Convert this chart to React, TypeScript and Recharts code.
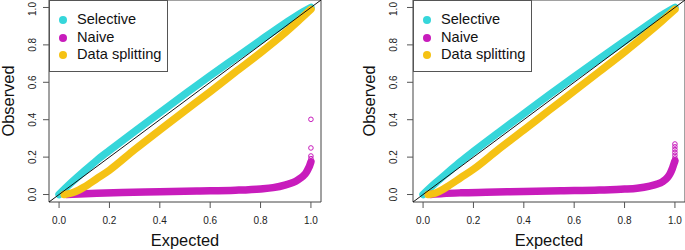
import {
  ComposedChart,
  Line,
  Scatter,
  XAxis,
  YAxis,
  ReferenceLine,
  ReferenceArea,
} from "recharts";

// expected p-values (x) for each series
const selectiveX = [0, 0.05, 0.1, 0.15, 0.2, 0.3, 0.4, 0.5, 0.6, 0.7, 0.8, 0.9, 0.95, 1.0];
const splitX = [0.02, 0.05, 0.08, 0.1, 0.15, 0.2, 0.3, 0.4, 0.5, 0.6, 0.7, 0.8, 0.9, 0.95, 1.0];
const naiveX = [0.03, 0.08, 0.15, 0.25, 0.4, 0.55, 0.7, 0.8, 0.85, 0.9, 0.93, 0.95, 0.97, 0.98, 0.99, 0.995, 1.0];

// observed, left panel
const selectiveLeft = [0.0, 0.065, 0.125, 0.183, 0.235, 0.337, 0.437, 0.537, 0.635, 0.73, 0.825, 0.918, 0.962, 1.0];
const splitLeft = [0.0, 0.008, 0.025, 0.04, 0.085, 0.13, 0.24, 0.345, 0.448, 0.55, 0.655, 0.758, 0.868, 0.928, 0.99];
const naiveLeft = [0.0, 0.003, 0.007, 0.011, 0.015, 0.019, 0.023, 0.03, 0.037, 0.052, 0.065, 0.08, 0.1, 0.115, 0.14, 0.155, 0.175];
const naiveOutLeft = [0.192, 0.206, 0.249, 0.402];

// observed, right panel
const selectiveRight = [0.0, 0.062, 0.12, 0.177, 0.23, 0.332, 0.432, 0.532, 0.63, 0.726, 0.82, 0.914, 0.96, 1.0];
const splitRight = [0.0, 0.008, 0.028, 0.045, 0.09, 0.135, 0.242, 0.345, 0.45, 0.553, 0.657, 0.762, 0.872, 0.93, 0.99];
const naiveRight = [0.0, 0.005, 0.009, 0.012, 0.016, 0.02, 0.024, 0.029, 0.034, 0.045, 0.056, 0.068, 0.09, 0.11, 0.14, 0.16, 0.18];
const naiveOutRight = [0.18, 0.195, 0.21, 0.225, 0.24, 0.255, 0.27];

const ticks = [0, 0.2, 0.4, 0.6, 0.8, 1.0];
const legendNames = ["Selective", "Naive", "Data splitting"];

const CYAN = "#36d6da";
const MAGENTA = "#c81cbc";
const GOLD = "#f5c214";
const legendColors = [CYAN, MAGENTA, GOLD];

const FONT = "'Liberation Sans', Arial, Helvetica, sans-serif";
const DOMAIN: [number, number] = [-0.04, 1.04];

const zip = (xs: number[], ys: number[]) => xs.map((x, i) => ({ x, y: ys[i] }));

type PanelProps = {
  left: number;
  width: number;
  axisWidth: number;
  rightMargin: number;
  yTickX: number;
  yTitleX: number;
  selective: number[];
  split: number[];
  naive: number[];
  outliers: number[];
};

function Panel(p: PanelProps) {
  const plotLeft = p.axisWidth;
  const plotWidth = p.width - p.axisWidth - p.rightMargin;

  const XTick = (props: any) => (
    <text x={props.x} y={223.7} textAnchor="middle" fontSize={10} fontFamily={FONT} fill="#222">
      {Number(props.payload.value).toFixed(1)}
    </text>
  );

  const YTick = (props: any) => (
    <text
      x={p.yTickX}
      y={props.y}
      transform={`rotate(-90, ${p.yTickX}, ${props.y})`}
      textAnchor="middle"
      fontSize={10}
      fontFamily={FONT}
      fill="#222"
    >
      {Number(props.payload.value).toFixed(1)}
    </text>
  );

  return (
    <div style={{ position: "absolute", left: p.left, top: 0, width: p.width, height: 250 }}>
      <ComposedChart
        width={p.width}
        height={250}
        margin={{ top: 0, right: p.rightMargin, bottom: 0, left: 0 }}
      >
        <XAxis
          type="number"
          dataKey="x"
          domain={DOMAIN}
          ticks={ticks}
          allowDataOverflow
          axisLine={false}
          tickLine={{ stroke: "#555" }}
          tickSize={6}
          height={48}
          tick={XTick}
          label={() => (
            <text
              x={plotLeft + plotWidth / 2}
              y={245.7}
              textAnchor="middle"
              fontSize={16.4}
              fontFamily={FONT}
              fill="#111"
            >
              Expected
            </text>
          )}
        />
        <YAxis
          type="number"
          dataKey="y"
          domain={DOMAIN}
          ticks={ticks}
          allowDataOverflow
          axisLine={false}
          tickLine={{ stroke: "#555" }}
          tickSize={6}
          width={p.axisWidth}
          tick={YTick}
          label={() => (
            <text
              x={p.yTitleX}
              y={101}
              transform={`rotate(-90, ${p.yTitleX}, 101)`}
              textAnchor="middle"
              fontSize={16.4}
              fontFamily={FONT}
              fill="#111"
            >
              Observed
            </text>
          )}
        />
        <ReferenceArea x1={-0.04} x2={1.04} y1={-0.04} y2={1.04} fill="none" stroke="#444" strokeWidth={1} />
        <Line
          data={zip(selectiveX, p.selective)}
          dataKey="y"
          type="monotone"
          stroke={CYAN}
          strokeWidth={7.5}
          strokeLinecap="round"
          dot={false}
          isAnimationActive={false}
        />
        <Line
          data={zip(naiveX, p.naive)}
          dataKey="y"
          type="monotone"
          stroke={MAGENTA}
          strokeWidth={7.5}
          strokeLinecap="round"
          dot={false}
          isAnimationActive={false}
        />
        <Line
          data={zip(splitX, p.split)}
          dataKey="y"
          type="monotone"
          stroke={GOLD}
          strokeWidth={7.5}
          strokeLinecap="round"
          dot={false}
          isAnimationActive={false}
        />
        <Scatter
          data={p.outliers.map((y) => ({ x: 1.0, y }))}
          isAnimationActive={false}
          shape={(s: any) => (
            <circle cx={s.cx} cy={s.cy} r={2.3} fill="none" stroke={MAGENTA} strokeWidth={1} />
          )}
        />
        <ReferenceLine
          segment={[
            { x: -0.04, y: -0.04 },
            { x: 1.04, y: 1.04 },
          ]}
          stroke="#111"
          strokeWidth={1}
        />
      </ComposedChart>
      <div
        style={{
          position: "absolute",
          left: plotLeft,
          top: 0,
          width: 119,
          height: 72,
          boxSizing: "border-box",
          border: "1px solid #555",
          background: "#fff",
          fontFamily: FONT,
          fontSize: 14.6,
          color: "#111",
        }}
      >
        {legendNames.map((name, i) => {
          const cy = 19 + i * 17.5;
          return (
            <div key={name}>
              <span
                style={{
                  position: "absolute",
                  left: 12.5 - 4,
                  top: cy - 4,
                  width: 8,
                  height: 8,
                  borderRadius: "50%",
                  background: legendColors[i],
                }}
              />
              <span
                style={{
                  position: "absolute",
                  left: 27,
                  top: cy - 9,
                  lineHeight: "17px",
                  whiteSpace: "nowrap",
                }}
              >
                {name}
              </span>
            </div>
          );
        })}
      </div>
    </div>
  );
}

export default function App() {
  return (
    <div style={{ position: "absolute", left: 0, top: 0, width: 685, height: 250, background: "#fff" }}>
      <Panel
        left={0}
        width={340}
        axisWidth={49}
        rightMargin={19}
        yTickX={36}
        yTitleX={13.6}
        selective={selectiveLeft}
        split={splitLeft}
        naive={naiveLeft}
        outliers={naiveOutLeft}
      />
      <Panel
        left={343}
        width={342}
        axisWidth={70}
        rightMargin={0}
        yTickX={54.3}
        yTitleX={32}
        selective={selectiveRight}
        split={splitRight}
        naive={naiveRight}
        outliers={naiveOutRight}
      />
    </div>
  );
}
